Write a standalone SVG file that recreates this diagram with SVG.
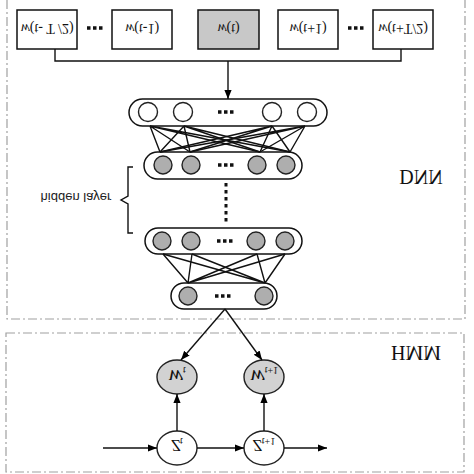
<svg xmlns="http://www.w3.org/2000/svg" width="474" height="474" viewBox="0 0 474 474">
<defs>
<marker id="ah" viewBox="0 0 10 10" refX="10" refY="5" markerWidth="9" markerHeight="9" markerUnits="userSpaceOnUse" orient="auto"><path d="M0,1 L10,5 L0,9 z" fill="#000"/></marker>
<style>
.region{fill:none;stroke:#a0a0a0;stroke-width:1.2;stroke-dasharray:9 3 2 3}
.box{fill:#fff;stroke:#111;stroke-width:1.5}
.gbox{fill:#c8c8c8;stroke:#111;stroke-width:1.5}
.bar{fill:#fff;stroke:#111;stroke-width:1.5}
.n{fill:#fff;stroke:#222;stroke-width:1.4}
.h{fill:#aeaeae;stroke:#222;stroke-width:1.4}
.hm{fill:#d2d2d2;stroke:#222;stroke-width:1.4}
.e{stroke:#111;stroke-width:1.4;fill:none}
.vd{stroke:#111;stroke-width:3;stroke-dasharray:3.5 3.5;fill:none}
.dots{stroke:#111;stroke-width:3.5;stroke-dasharray:3.5 2.5;fill:none}
.t{font-family:"Liberation Serif",serif;font-size:14px;fill:#111;text-anchor:middle}
.lbl{font-family:"Liberation Serif",serif;font-size:20px;fill:#111;text-anchor:middle}
.sans{font-family:"Liberation Sans",sans-serif;font-size:13px;fill:#222;text-anchor:middle}
.it{font-style:italic}
</style>
</defs>
<rect width="474" height="474" fill="#fff"/>

<g id="regions">
<path class="region" d="M7,0 V319 H465 V0"/>
<rect class="region" x="6" y="333" width="458" height="139"/>
<text class="lbl" transform="matrix(1 0 0 -1 421 170)">DNN</text>
<text class="lbl" transform="matrix(1 0 0 -1 416 346)">HMM</text>
</g>

<g id="input-w-t-T2"><rect class="box" x="17" y="10" width="60" height="39"/><text class="t" transform="matrix(1 0 0 -1 47 24)"><tspan class="it">w</tspan>(t- T /2)</text></g>
<g id="input-w-t-1"><rect class="box" x="112" y="10" width="60" height="39"/><text class="t" transform="matrix(1 0 0 -1 142 24)"><tspan class="it">w</tspan>(t-1)</text></g>
<g id="input-w-t"><rect class="gbox" x="198" y="10" width="61" height="39"/><text class="t" transform="matrix(1 0 0 -1 228.5 24)"><tspan class="it">w</tspan>(t)</text></g>
<g id="input-w-t1"><rect class="box" x="278" y="10" width="60" height="39"/><text class="t" transform="matrix(1 0 0 -1 308 24)"><tspan class="it">w</tspan>(t+1)</text></g>
<g id="input-w-tT2"><rect class="box" x="373" y="10" width="60" height="39"/><text class="t" transform="matrix(1 0 0 -1 403 24)"><tspan class="it">w</tspan>(t+T/2)</text></g>
<g id="input-dots">
<path class="dots" d="M87,28 H104"/>
<path class="dots" d="M348,28 H365"/>
</g>

<g id="input-layer">
<rect class="bar" x="129" y="99" width="198" height="27" rx="13.5"/>
<circle class="n" cx="148" cy="112" r="9.5"/>
<circle class="n" cx="183" cy="112" r="9.5"/>
<circle class="n" cx="272" cy="112" r="9.5"/>
<circle class="n" cx="307" cy="112" r="9.5"/>
<path class="dots" d="M218,112 H236"/>
</g>

<g id="hidden-layer-1">
<rect class="bar" x="144" y="152" width="158" height="27" rx="13.5"/>
<circle class="h" cx="163" cy="165" r="9"/>
<circle class="h" cx="191" cy="165" r="9"/>
<circle class="h" cx="257" cy="165" r="9"/>
<circle class="h" cx="286" cy="165" r="9"/>
<path class="dots" d="M218,165 H236"/>
</g>

<g id="hidden-layer-2">
<rect class="bar" x="145" y="228" width="157" height="26" rx="13"/>
<circle class="h" cx="162" cy="241" r="9"/>
<circle class="h" cx="191" cy="241" r="9"/>
<circle class="h" cx="256" cy="241" r="9"/>
<circle class="h" cx="285" cy="241" r="9"/>
<path class="dots" d="M217,241 H235"/>
</g>

<g id="output-layer">
<rect class="bar" x="171" y="283" width="106" height="26" rx="13"/>
<circle class="h" cx="188" cy="296" r="9"/>
<circle class="h" cx="264" cy="296" r="9"/>
<path class="dots" d="M215,296 H233"/>
</g>

<g id="hidden-brace">
<path class="e" d="M133,167 H128 V196 L121,200 L128,204 V233 H133"/>
<text class="sans" transform="matrix(1 0 0 -1 76 193)">hidden layer</text>
</g>

<g id="node-w-t"><ellipse class="hm" cx="177" cy="377" rx="20" ry="17"/><text class="lbl" transform="matrix(1 0 0 -1 177 370)"><tspan class="it" font-size="22">w</tspan><tspan font-size="10" dy="3">t</tspan></text></g>
<g id="node-w-t1"><ellipse class="hm" cx="264" cy="377" rx="20" ry="17"/><text class="lbl" transform="matrix(1 0 0 -1 264 370)"><tspan class="it" font-size="22">w</tspan><tspan font-size="10" dy="3">t+1</tspan></text></g>
<g id="node-z-t"><ellipse class="n" cx="177" cy="448" rx="20" ry="17"/><text class="lbl" transform="matrix(1 0 0 -1 177 440)"><tspan class="it" font-size="16">Z</tspan><tspan font-size="10" dy="2">t</tspan></text></g>
<g id="node-z-t1"><ellipse class="n" cx="264" cy="448" rx="20" ry="17"/><text class="lbl" transform="matrix(1 0 0 -1 264 440)"><tspan class="it" font-size="16">Z</tspan><tspan font-size="10" dy="2">t+1</tspan></text></g>

<g id="connectors">
<path class="e" d="M55,49 V61 H401 V49"/>
<path class="e" d="M228,61 V99" marker-end="url(#ah)"/>
<g id="full-connections-1">
<path class="e" d="M150,126 L160,152 M150,126 L190,152 M150,126 L260,152 M150,126 L290,152"/>
<path class="e" d="M184,126 L160,152 M184,126 L190,152 M184,126 L260,152 M184,126 L290,152"/>
<path class="e" d="M272,126 L160,152 M272,126 L190,152 M272,126 L260,152 M272,126 L290,152"/>
<path class="e" d="M305,126 L160,152 M305,126 L190,152 M305,126 L260,152 M305,126 L290,152"/>
</g>
<path class="vd" d="M226,183 V222"/>
<g id="full-connections-2">
<path class="e" d="M163,254 L188,283 M192,254 L188,283 M257,254 L188,283 M285,254 L188,283"/>
<path class="e" d="M163,254 L265,283 M192,254 L265,283 M257,254 L265,283 M285,254 L265,283"/>
</g>
<path class="e" d="M225,309 L181,360" marker-end="url(#ah)"/>
<path class="e" d="M225,309 L262,360" marker-end="url(#ah)"/>
<path class="e" d="M177,431 V394" marker-end="url(#ah)"/>
<path class="e" d="M264,431 V394" marker-end="url(#ah)"/>
<path class="e" d="M103,448 H157" marker-end="url(#ah)"/>
<path class="e" d="M197,448 H244" marker-end="url(#ah)"/>
<path class="e" d="M284,448 H327" marker-end="url(#ah)"/>
</g>
</svg>
